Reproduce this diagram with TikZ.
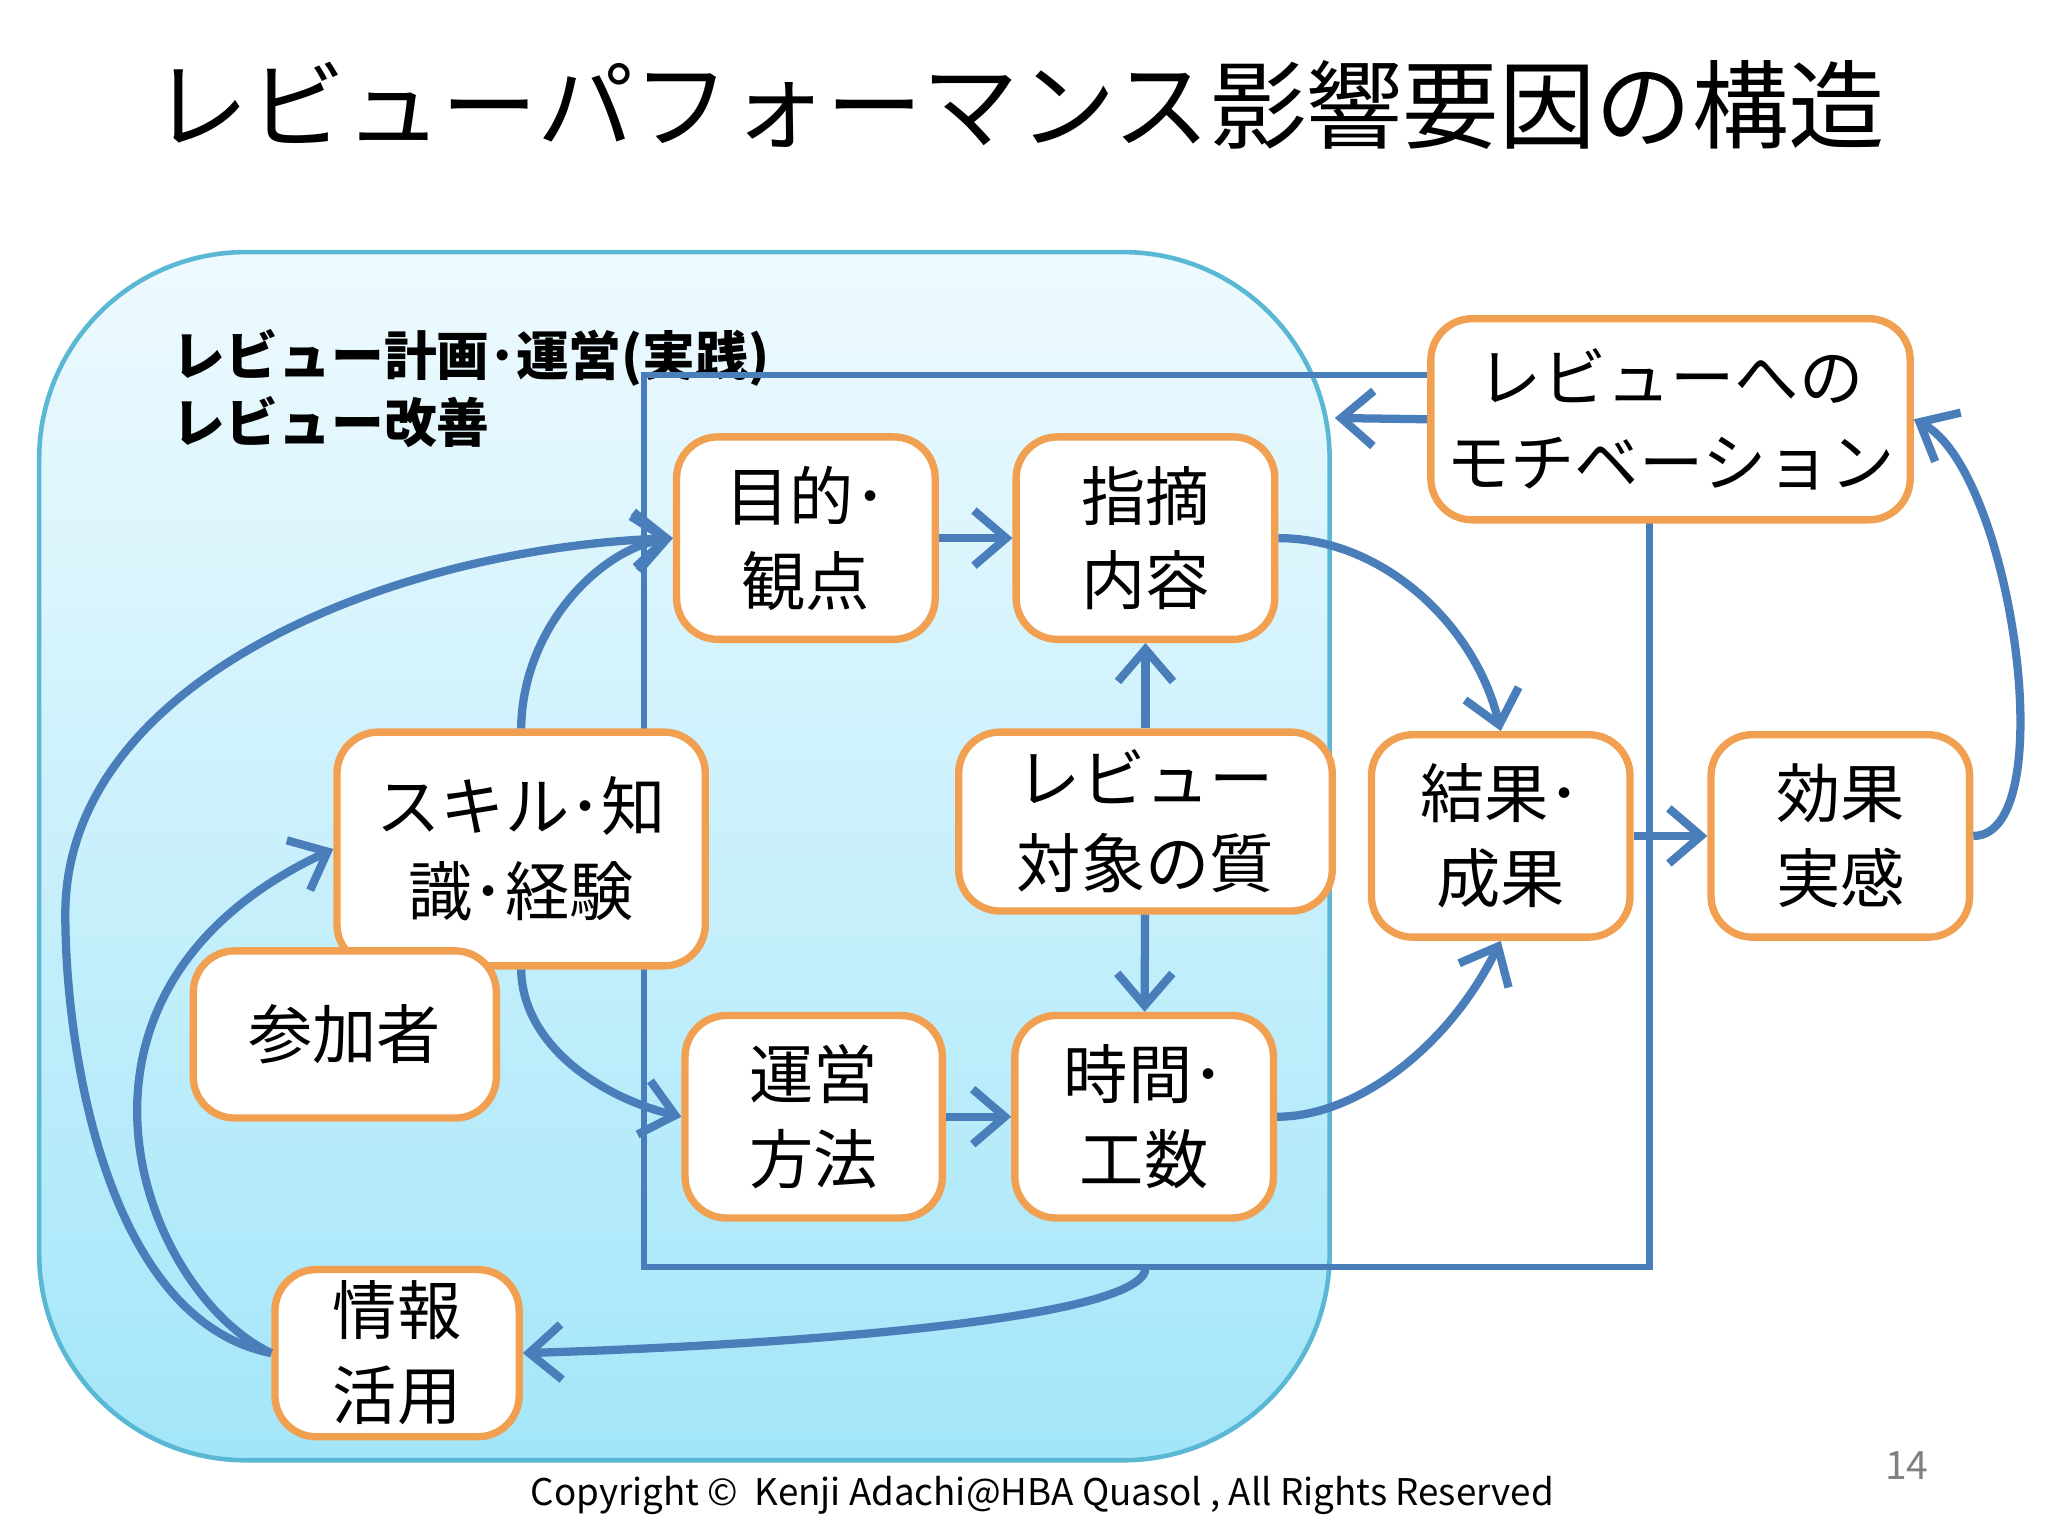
\documentclass[tikz,border=0pt]{standalone}
\usepackage{fontspec}
\setmainfont{Noto Sans CJK JP}
\usetikzlibrary{arrows.meta}

\definecolor{flow}{HTML}{4A7EBB}
\definecolor{edge}{HTML}{F0A050}
\definecolor{poolline}{HTML}{5BB8D4}
\definecolor{pooltop}{HTML}{EEFAFE}
\definecolor{poolbot}{HTML}{A3E6F9}

\begin{document}
\begin{tikzpicture}[
      x=0.1mm, y=-0.1mm,
      factor/.style={draw=edge, line width=1.6pt, fill=white, rounded corners=9pt,
        align=center, font=\fontsize{14}{18.5}\selectfont, inner sep=0pt},
      link/.style={flow, line width=1.8pt, -{Straight Barb[length=7pt,width=12pt,line width=1.8pt]}},
      frame/.style={flow, line width=1.4pt},
    ]
    \useasboundingbox (0,0) rectangle (1568,1176);
    \fill[white] (0,0) rectangle (1568,1176);
    % Title.
    \node (title) at (780,80) {\fontsize{21}{25}\selectfont レビューパフォーマンス影響要因の構造};
    % Shaded area.
    \shade[top color=pooltop, bottom color=poolbot, rounded corners=45pt, draw=poolline, line width=1pt]
      (30,193) rectangle (1018,1118);
    \node[anchor=north west, align=left, font=\bfseries\fontsize{11.5}{14.5}\selectfont] (area) at (120,240)
      {レビュー計画･運営(実践)\\レビュー改善};
    % Frame.
    \draw[frame] (1095,287) -- (493,287) -- (493,970) -- (1263,970) -- (1263,398);
    % Factors.
    \node[factor, minimum width=19.8mm, minimum height=15.5mm] (goal) at (617,412) {目的･\\観点};
    \node[factor, minimum width=19.8mm, minimum height=15.5mm] (find) at (877,412) {指摘\\内容};
    \node[factor, minimum width=28.2mm, minimum height=17.9mm] (skill) at (399,650) {スキル･知\\識･経験};
    \node[factor, minimum width=28.6mm, minimum height=13.7mm] (qual) at (877,629) {レビュー\\対象の質};
    \node[factor, minimum width=19.8mm, minimum height=15.5mm] (res) at (1149,640) {結果･\\成果};
    \node[factor, minimum width=19.8mm, minimum height=15.5mm] (eff) at (1409,640) {効果\\実感};
    \node[factor, minimum width=36.7mm, minimum height=15.4mm] (motiv) at (1279,321) {レビューへの\\モチベーション};
    \node[factor, minimum width=23.2mm, minimum height=12.8mm] (memb) at (264,792) {参加者};
    \node[factor, minimum width=19.7mm, minimum height=15.5mm] (oper) at (623,855) {運営\\方法};
    \node[factor, minimum width=19.8mm, minimum height=15.5mm] (time) at (876,855) {時間･\\工数};
    \node[factor, minimum width=18.7mm, minimum height=12.8mm] (info) at (304,1036) {情報\\活用};
    \coordinate (back) at (1022,320);
    \coordinate (fbot) at (877,970);
    % Links.
    \draw[link] (goal) -- (find);
    \draw[link] (oper) -- (time);
    \draw[link] (qual) -- (find);
    \draw[link] (qual) -- (time);
    \draw[link] (res) -- (eff);
    \draw[link] (motiv.west) -- (back);
    \draw[link] (find.east) .. controls (1060,412) and (1130,480) .. (res.north);
    \draw[link] (time.east) .. controls (1040,855) and (1110,800) .. (res.south);
    \draw[link] (eff.east) .. controls (1580,640) and (1540,360) .. (motiv.east);
    \draw[link] (skill.north) .. controls (400,480) and (460,420) .. (goal.west);
    \draw[link] (skill.south) .. controls (400,800) and (460,840) .. (oper.west);
    \draw[link] (info.west) .. controls (80,1010) and (50,800) .. (50,700) .. controls (50,520) and (300,420) .. (goal.west);
    \draw[link] (info.west) .. controls (110,990) and (20,760) .. (skill.west);
    \draw[link] (fbot) .. controls (880,1010) and (600,1030) .. (info.east);
    % Footer.
    \node[font=\fontsize{8}{10}\selectfont] (copy) at (798,1145) {Copyright ©\ \ Kenji Adachi@HBA Quasol , All Rights Reserved};
    \node[gray, font=\fontsize{8.5}{10}\selectfont] (page) at (1460,1122) {14};
\end{tikzpicture}
\end{document}
